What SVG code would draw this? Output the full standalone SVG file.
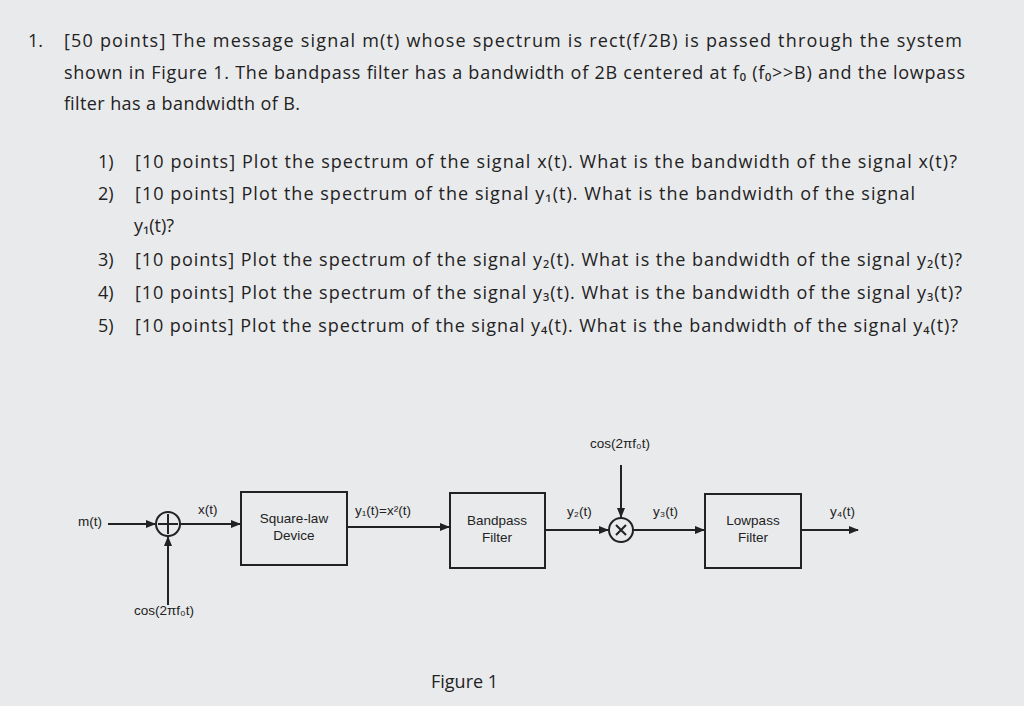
<svg xmlns="http://www.w3.org/2000/svg" width="1024" height="706" viewBox="0 0 1024 706">
<style>
.q{font-family:"Open Sans","Liberation Sans",sans-serif;font-size:18px;fill:#222}
.d{font-family:"Liberation Sans",Arial,sans-serif;font-size:13.5px;fill:#222}
.b{fill:none;stroke:#222;stroke-width:2}
.c{stroke:#222;stroke-width:2;fill:none}
</style>
<defs><marker id="a" markerWidth="10" markerHeight="8" refX="9" refY="4" orient="auto" markerUnits="userSpaceOnUse"><path d="M0,0L10,4L0,8z" fill="#222"/></marker></defs>
<rect width="1024" height="706" fill="#e9eaec"/>
<g id="text">
<text class="q" x="28" y="47">1.</text>
<text class="q" x="64" y="47" textLength="898" lengthAdjust="spacing">[50 points] The message signal m(t) whose spectrum is rect(f/2B) is passed through the system</text>
<text class="q" x="64" y="79" textLength="901" lengthAdjust="spacing">shown in Figure 1. The bandpass filter has a bandwidth of 2B centered at f₀ (f₀&gt;&gt;B) and the lowpass</text>
<text class="q" x="64" y="110" textLength="236" lengthAdjust="spacing">filter has a bandwidth of B.</text>
<text class="q" x="98" y="168">1)</text>
<text class="q" x="135" y="168" textLength="822" lengthAdjust="spacing">[10 points] Plot the spectrum of the signal x(t). What is the bandwidth of the signal x(t)?</text>
<text class="q" x="98" y="200">2)</text>
<text class="q" x="135" y="200" textLength="780" lengthAdjust="spacing">[10 points] Plot the spectrum of the signal y₁(t). What is the bandwidth of the signal</text>
<text class="q" x="134" y="232">y₁(t)?</text>
<text class="q" x="98" y="266">3)</text>
<text class="q" x="135" y="266" textLength="827" lengthAdjust="spacing">[10 points] Plot the spectrum of the signal y₂(t). What is the bandwidth of the signal y₂(t)?</text>
<text class="q" x="98" y="299">4)</text>
<text class="q" x="135" y="299" textLength="827" lengthAdjust="spacing">[10 points] Plot the spectrum of the signal y₃(t). What is the bandwidth of the signal y₃(t)?</text>
<text class="q" x="98" y="332">5)</text>
<text class="q" x="135" y="332" textLength="823" lengthAdjust="spacing">[10 points] Plot the spectrum of the signal y₄(t). What is the bandwidth of the signal y₄(t)?</text>
<text class="q" x="431" y="688">Figure 1</text>
</g>
<g id="adder"><circle class="b" cx="168" cy="524" r="12"/><path class="b" d="M168,514V534M158,524H178"/></g>
<g id="square"><rect class="b" x="241" y="492" width="106" height="73"/><text class="d" x="294" y="523" text-anchor="middle">Square-law</text><text class="d" x="294" y="540" text-anchor="middle">Device</text></g>
<g id="bandpass"><rect class="b" x="450" y="493" width="95" height="75"/><text class="d" x="497" y="525" text-anchor="middle">Bandpass</text><text class="d" x="497" y="542" text-anchor="middle">Filter</text></g>
<g id="mult"><circle class="b" cx="621" cy="530" r="12"/><path class="b" d="M616,525L626,535M626,525L616,535"/></g>
<g id="lowpass"><rect class="b" x="705" y="494" width="96" height="74"/><text class="d" x="753" y="525" text-anchor="middle">Lowpass</text><text class="d" x="753" y="542" text-anchor="middle">Filter</text></g>
<g id="connectors">
<path class="c" marker-end="url(#a)" d="M108,524H155"/>
<path class="c" marker-end="url(#a)" d="M168,605V537"/>
<path class="c" marker-end="url(#a)" d="M180,524H240"/>
<path class="c" marker-end="url(#a)" d="M347,527H449"/>
<path class="c" marker-end="url(#a)" d="M545,530H608"/>
<path class="c" marker-end="url(#a)" d="M621,465V517"/>
<path class="c" marker-end="url(#a)" d="M633,530H704"/>
<path class="c" marker-end="url(#a)" d="M801,530H858"/>
</g>
<g id="labels">
<text class="d" x="78" y="526">m(t)</text>
<text class="d" x="198" y="514">x(t)</text>
<text class="d" x="355" y="515">y₁(t)=x²(t)</text>
<text class="d" x="567" y="516">y₂(t)</text>
<text class="d" x="653" y="516">y₃(t)</text>
<text class="d" x="830" y="516">y₄(t)</text>
<text class="d" x="590" y="448">cos(2πf₀t)</text>
<text class="d" x="134" y="615">cos(2πf₀t)</text>
</g>
</svg>
